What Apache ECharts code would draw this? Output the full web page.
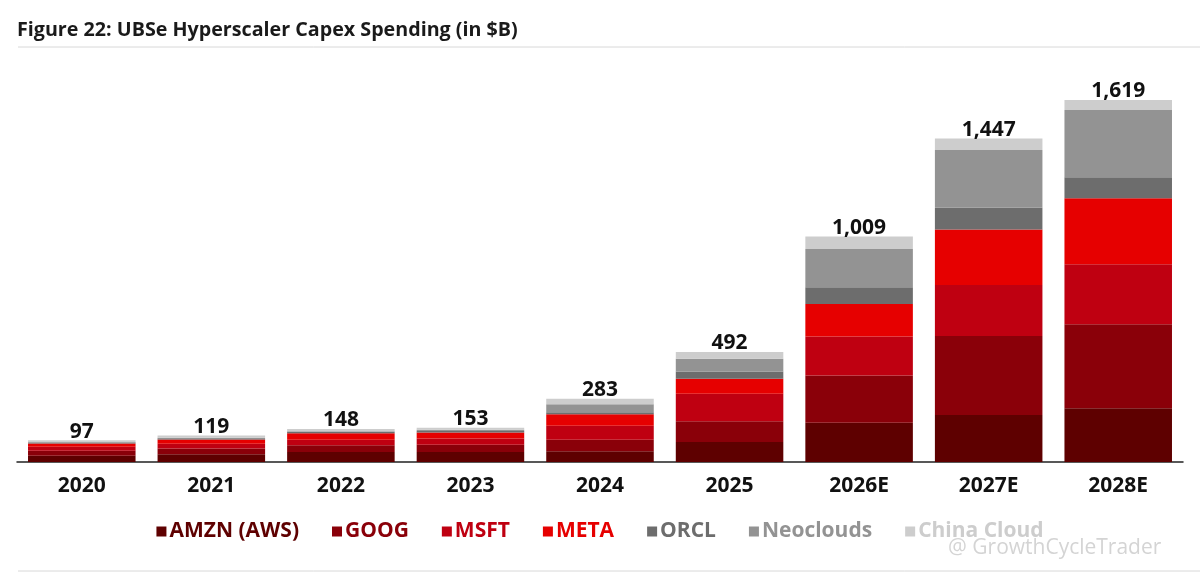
<!DOCTYPE html>
<html><head><meta charset="utf-8">
<script src="https://cdn.jsdelivr.net/npm/echarts@6/dist/echarts.min.js"></script>
<style>html,body{margin:0;padding:0;background:#fff}#c{width:1200px;height:574px}</style>
</head><body><div id="c"></div>
<script>
const categories = ['2020','2021','2022','2023','2024','2025','2026E','2027E','2028E'];
const amzn  = [28, 35, 45, 45, 48, 89, 176, 210, 240];
const goog  = [22, 25, 30, 32, 52, 93, 211, 353, 376];
const msft  = [18, 22, 24, 28, 62, 123, 174, 228, 268];
const meta  = [15, 19, 30, 27, 52, 67, 146, 249, 295];
const orcl  = [4, 5, 5, 7, 8, 33, 74, 97, 94];
const neo   = [2, 3, 4, 5, 36, 57, 172, 258, 301];
const china = [8, 10, 10, 9, 25, 30, 56, 52, 45];
const totals = [97, 119, 148, 153, 283, 492, 1009, 1447, 1619];

const names  = ['AMZN (AWS)','GOOG','MSFT','META','ORCL','Neoclouds','China Cloud'];
const colors = ['#5e0000','#8a0009','#bf0011','#e60000','#6d6d6d','#939393','#cdcdcd'];
const seriesData = [amzn, goog, msft, meta, orcl, neo, china];

const FONT = '"Open Sans", "Noto Sans", sans-serif';
const chart = echarts.init(document.getElementById('c'));
const series = seriesData.map((d, i) => ({
  name: names[i], type: 'bar', stack: 'total', data: d,
  barCategoryGap: '17%',
  itemStyle: { color: colors[i] },
  emphasis: { disabled: true },
  label: i === seriesData.length - 1 ? {
    show: true, position: 'top', distance: 0, offset: [0, 2],
    fontFamily: FONT, fontWeight: 'bold', fontSize: 21, color: '#111',
    formatter: p => totals[p.dataIndex].toLocaleString('en-US')
  } : { show: false }
}));

chart.setOption({
  animation: false,
  title: {
    text: 'Figure 22: UBSe Hyperscaler Capex Spending (in $B)',
    left: 12, top: 15,
    textStyle: { fontFamily: FONT, fontWeight: 'bold', fontSize: 19.7, color: '#1a1a1a' }
  },
  legend: {
    bottom: 27, left: 'center',
    icon: 'rect', itemWidth: 10, itemHeight: 10, itemGap: 33,
    selectedMode: false,
    data: names.map((n, i) => ({ name: n, textStyle: { color: colors[i] } })),
    textStyle: { fontFamily: FONT, fontWeight: 'bold', fontSize: 21, padding: [0,0,0,-2] }
  },
  grid: { left: 17, right: 17, top: 59.5, bottom: 112, containLabel: false },
  xAxis: {
    type: 'category', data: categories,
    axisLine: { lineStyle: { color: '#222', width: 1.5 } },
    axisTick: { show: false },
    axisLabel: { fontFamily: FONT, fontWeight: 'bold', fontSize: 21, color: '#111', margin: 14 }
  },
  yAxis: { type: 'value', min: 0, max: 1800, show: false, splitLine: { show: false } },
  graphic: [
    { type: 'line', shape: { x1: 18, y1: 47, x2: 1200, y2: 47 }, style: { stroke: '#d8d8d8', lineWidth: 1 } },
    { type: 'line', shape: { x1: 18, y1: 571, x2: 1200, y2: 571 }, style: { stroke: '#d8d8d8', lineWidth: 1 } },
    { type: 'text', left: 948, top: 538, style: { text: '@ GrowthCycleTrader', fontFamily: '"Open Sans", sans-serif', fontSize: 21, fill: '#d4d4d4' } }
  ],
  series: series
});
</script></body></html>
